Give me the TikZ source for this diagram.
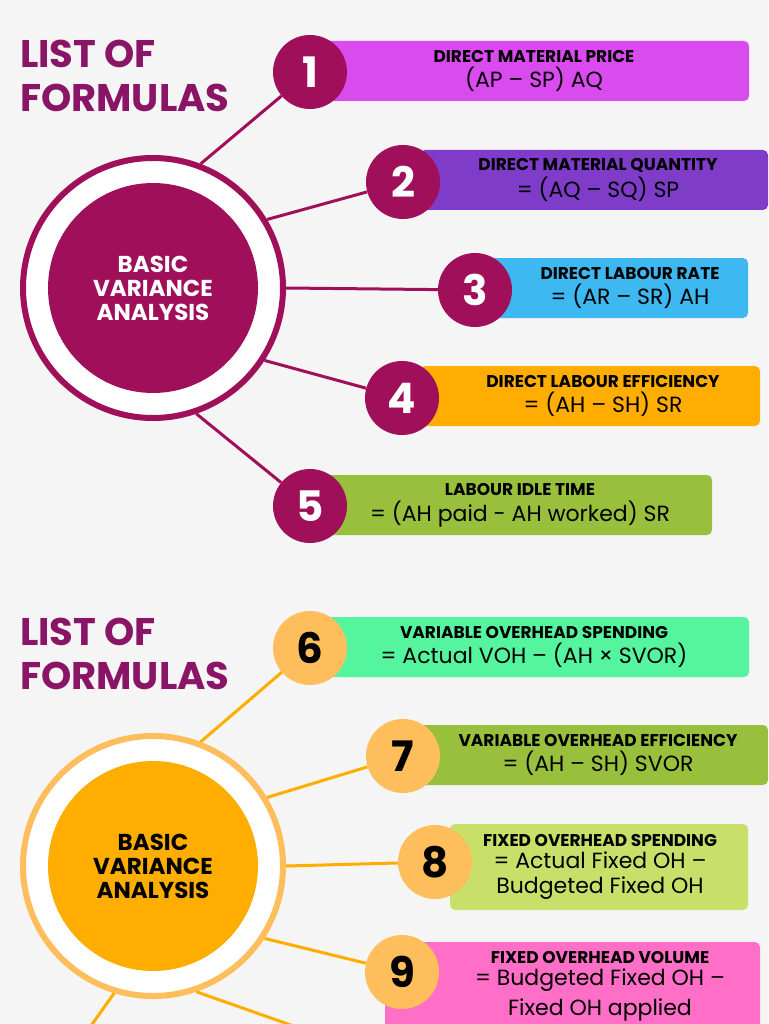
\documentclass[tikz,border=0pt]{standalone}
\usepackage{fontspec}
\setmainfont{Poppins}
\begin{document}
\begin{tikzpicture}[x=1pt,y=-1pt,
  title/.style={anchor=north west,align=left,font=\fontsize{38.5}{44}\selectfont\bfseries,text=titlec,inner sep=0},
  boxtxt/.style={align=center,inner sep=0},
  num/.style={circle,minimum size=74pt,inner sep=0,font=\fontsize{42}{42}\selectfont\bfseries},
  conn/.style={line width=3pt}]
\definecolor{titlec}{HTML}{8A1466}
\definecolor{magc}{HTML}{A0105A}
\definecolor{orc}{HTML}{FFBE5C}
\definecolor{ord}{HTML}{FFAE00}
\newcommand{\hd}{\fontsize{17}{22}\selectfont\bfseries}
\newcommand{\fm}{\fontsize{22}{27}\selectfont\mdseries}
\useasboundingbox (0,0) rectangle (768,1024);
\fill[white!96!black] (0,0) rectangle (768,1024);
% ---------- top section
\node[title] (t1) at (20,40) {LIST OF\\FORMULAS};
\node[circle,draw=magc,line width=6pt,fill=white,minimum size=260pt] (bc1) at (153,288) {};
\node[circle,fill=magc,minimum size=210pt,text=white,align=center,font=\fontsize{23}{24}\selectfont\bfseries] (ic1) at (153,288) {BASIC\\VARIANCE\\ANALYSIS};
\fill[fill={rgb,255:red,217;green,75;blue,239},rounded corners=5pt] (325,41) rectangle (749,101);
\node[boxtxt] (b1) at (534,71) {\hd DIRECT MATERIAL PRICE\\[4pt]\fm (AP – SP) AQ};
\fill[fill={rgb,255:red,126;green,60;blue,200},rounded corners=5pt] (420,150) rectangle (768,210);
\node[boxtxt] (b2) at (598,180) {\hd DIRECT MATERIAL QUANTITY\\[4pt]\fm = (AQ – SQ) SP};
\fill[fill={rgb,255:red,61;green,184;blue,240},rounded corners=5pt] (490,258) rectangle (748,318);
\node[boxtxt] (b3) at (630,288) {\hd DIRECT LABOUR RATE\\[4pt]\fm = (AR – SR) AH};
\fill[fill={rgb,255:red,255;green,173;blue,0},rounded corners=5pt] (420,366) rectangle (760,426);
\node[boxtxt] (b4) at (603,396) {\hd DIRECT LABOUR EFFICIENCY\\[4pt]\fm = (AH – SH) SR};
\fill[fill={rgb,255:red,152;green,192;blue,60},rounded corners=5pt] (325,475) rectangle (712,535);
\node[boxtxt] (b5) at (520,505) {\hd LABOUR IDLE TIME\\[4pt]\fm = (AH paid - AH worked) SR};
\node[num,fill=magc,text=white] (n1) at (310,72) {1};
\node[num,fill=magc,text=white] (n2) at (403,182) {2};
\node[num,fill=magc,text=white] (n3) at (475,290) {3};
\node[num,fill=magc,text=white] (n4) at (402,398) {4};
\node[num,fill=magc,text=white] (n5) at (310,506) {5};
\draw[conn,magc] (bc1.69) -- (n1);
\draw[conn,magc] (bc1.31) -- (n2);
\draw[conn,magc] (bc1.0) -- (n3);
\draw[conn,magc] (bc1.-33) -- (n4);
\draw[conn,magc] (bc1.-71) -- (n5);
% ---------- bottom section
\node[title] (t2) at (20,618) {LIST OF\\FORMULAS};
\node[circle,draw=orc,line width=6pt,fill=white,minimum size=260pt] (bc2) at (153,866) {};
\node[circle,fill=ord,minimum size=210pt,text=black,align=center,font=\fontsize{23}{24}\selectfont\bfseries] (ic2) at (153,866) {BASIC\\VARIANCE\\ANALYSIS};
\fill[fill={rgb,255:red,85;green,245;blue,160},rounded corners=5pt] (325,617) rectangle (749,677);
\node[boxtxt] (b6) at (534,647) {\hd VARIABLE OVERHEAD SPENDING\\[4pt]\fm = Actual VOH – (AH × SVOR)};
\fill[fill={rgb,255:red,152;green,192;blue,60},rounded corners=5pt] (420,725) rectangle (768,785);
\node[boxtxt] (b7) at (598,755) {\hd VARIABLE OVERHEAD EFFICIENCY\\[4pt]\fm = (AH – SH) SVOR};
\fill[fill={rgb,255:red,200;green,224;blue,106},rounded corners=5pt] (450,824) rectangle (748,910);
\node[boxtxt] (b8) at (600,867) {\hd FIXED OVERHEAD SPENDING\\[4pt]\fm = Actual Fixed OH –\\[7pt]\fm Budgeted Fixed OH};
\fill[fill={rgb,255:red,255;green,110;blue,199},rounded corners=5pt] (385,942) rectangle (760,1040);
\node[boxtxt,anchor=north] (b9) at (600,951) {\hd FIXED OVERHEAD VOLUME\\[4pt]\fm = Budgeted Fixed OH –\\[7pt]\fm Fixed OH applied};
\node[num,fill=orc] (n6) at (310,648) {6};
\node[num,fill=orc] (n7) at (403,756) {7};
\node[num,fill=orc] (n8) at (435,862) {8};
\node[num,fill=orc] (n9) at (402,972) {9};
\coordinate (c10) at (88,1030);
\coordinate (c11) at (305,1030);
\draw[conn,ord] (bc2.69) -- (n6);
\draw[conn,ord] (bc2.31) -- (n7);
\draw[conn,ord] (bc2.0) -- (n8);
\draw[conn,ord] (bc2.-33) -- (n9);
\draw[conn,ord] (bc2.-107) -- (c10);
\draw[conn,ord] (bc2.-71) -- (c11);
\end{tikzpicture}
\end{document}
